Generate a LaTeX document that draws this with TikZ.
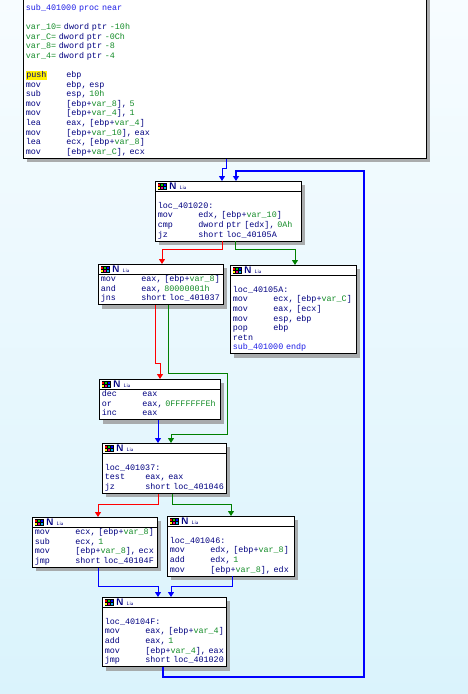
\documentclass[tikz,border=0pt]{standalone}
\usepackage{fontspec}
\newfontfamily\idamono{Liberation Mono}
\usepackage{tikz}
\usetikzlibrary{arrows.meta,shadows}

\definecolor{idanavy}{RGB}{0,0,128}
\definecolor{idagreen}{RGB}{20,140,40}
\definecolor{idablue}{RGB}{30,30,230}
\definecolor{idared}{RGB}{255,0,0}
\definecolor{idaedge}{RGB}{0,0,255}
\definecolor{idaok}{RGB}{0,128,0}
\definecolor{bgtop}{RGB}{247,252,255}
\definecolor{bgbot}{RGB}{218,243,252}

\newcommand{\asmfont}{\idamono\fontsize{8.4pt}{9.6pt}\selectfont}
\newcommand{\op}[2]{\mbox{\makebox[40.5pt][l]{#1}#2}}
\newcommand{\gv}[1]{\textcolor{idagreen}{#1}}
\newcommand{\hl}[1]{{\setlength{\fboxsep}{0.4pt}\colorbox{yellow}{#1}}}

\tikzset{
  block/.style={draw=black, fill=white, line width=0.8pt, anchor=north west, align=left,
    inner xsep=2.5pt, inner ysep=1pt, font=\asmfont, text=idanavy,
    drop shadow={shadow xshift=4pt, shadow yshift=-4pt, fill=black!40, opacity=0.8},
    execute at end node=\strut},
  redge/.style={draw=idared, line width=1pt, -{Triangle[length=5pt,width=6pt]}},
  gedge/.style={draw=idaok, line width=1pt, -{Triangle[length=5pt,width=6pt]}},
  bedge/.style={draw=idaedge, line width=1pt, -{Triangle[length=5pt,width=6pt]}},
  loopedge/.style={bedge, line width=2.2pt},
  idahdr/.pic={
    \fill[black] (2.5,-2) rectangle (11.5,-8.5);
    \fill[red] (3,-2.5) rectangle (5.4,-5);
    \fill[green!80!black] (6,-2.5) rectangle (8.4,-5);
    \fill[blue] (9,-2.5) rectangle (11,-5);
    \fill[yellow] (3,-5.5) rectangle (5.4,-8);
    \fill[magenta] (6,-5.5) rectangle (8.4,-8);
    \fill[cyan] (9,-5.5) rectangle (11,-8);
    \node[anchor=south west, inner sep=0, text=idanavy,
      font=\sffamily\bfseries\fontsize{9.5pt}{9.5pt}\selectfont] (-n) at (14,-9) {N};
    \node[anchor=south west, inner sep=0, text=idanavy,
      font=\sffamily\fontsize{5pt}{5pt}\selectfont] (-t) at (24.5,-8.8) {Lia};
  }
}

\begin{document}
\begin{tikzpicture}[x=1pt,y=1pt]
  \useasboundingbox (0,0) rectangle (468,-694);
  \shade[top color=bgtop, bottom color=bgbot] (0,0) rectangle (468,-694);
  \clip (0,0) rectangle (468,-694);

  % Blocks
  \node[block, text width=398pt] (top) at (23,17) {\strut\\ \strut\\
    \textcolor{idablue}{\mbox{sub\_401000 proc near}}\\ \strut\\
    \mbox{\gv{var\_10=} dword ptr \gv{-10h}}\\
    \mbox{\gv{var\_C=} dword ptr \gv{-0Ch}}\\
    \mbox{\gv{var\_8=} dword ptr \gv{-8}}\\
    \mbox{\gv{var\_4=} dword ptr \gv{-4}}\\ \strut\\
    \op{\hl{push}}{ebp}\\
    \op{mov}{ebp, esp}\\
    \op{sub}{esp, \gv{10h}}\\
    \op{mov}{[ebp+\gv{var\_8}], \gv{5}}\\
    \op{mov}{[ebp+\gv{var\_4}], \gv{1}}\\
    \op{lea}{eax, [ebp+\gv{var\_4}]}\\
    \op{mov}{[ebp+\gv{var\_10}], eax}\\
    \op{lea}{ecx, [ebp+\gv{var\_8}]}\\
    \op{mov}{[ebp+\gv{var\_C}], ecx}};
  \node[block, text width=141pt] (b2) at (155,-181) {\strut\\ \strut\\
    loc\_401020:\\
    \op{mov}{edx, [ebp+\gv{var\_10}]}\\
    \op{cmp}{dword ptr [edx], \gv{0Ah}}\\
    \op{jz}{short loc\_40105A}};
  \node[block, text width=120pt] (b3) at (98,-264) {\strut\\
    \op{mov}{eax, [ebp+\gv{var\_8}]}\\
    \op{and}{eax, \gv{80000001h}}\\
    \op{jns}{short loc\_401037}};
  \node[block, text width=121pt] (b4) at (230,-265) {\strut\\ \strut\\
    loc\_40105A:\\
    \op{mov}{ecx, [ebp+\gv{var\_C}]}\\
    \op{mov}{eax, [ecx]}\\
    \op{mov}{esp, ebp}\\
    \op{pop}{ebp}\\
    retn\\
    \textcolor{idablue}{\mbox{sub\_401000 endp}}};
  \node[block, text width=116pt] (b5) at (99,-379) {\strut\\
    \op{dec}{eax}\\
    \op{or}{eax, \gv{0FFFFFFFEh}}\\
    \op{inc}{eax}};
  \node[block, text width=119pt] (b6) at (102,-443) {\strut\\ \strut\\
    loc\_401037:\\
    \op{test}{eax, eax}\\
    \op{jz}{short loc\_401046}};
  \node[block, text width=120pt] (b7) at (32,-517) {\strut\\
    \op{mov}{ecx, [ebp+\gv{var\_8}]}\\
    \op{sub}{ecx, \gv{1}}\\
    \op{mov}{[ebp+\gv{var\_8}], ecx}\\
    \op{jmp}{short loc\_40104F}};
  \node[block, text width=122pt] (b8) at (167,-516) {\strut\\ \strut\\
    loc\_401046:\\
    \op{mov}{edx, [ebp+\gv{var\_8}]}\\
    \op{add}{edx, \gv{1}}\\
    \op{mov}{[ebp+\gv{var\_8}], edx}};
  \node[block, text width=119pt] (b9) at (102,-597) {\strut\\ \strut\\
    loc\_40104F:\\
    \op{mov}{eax, [ebp+\gv{var\_4}]}\\
    \op{add}{eax, \gv{1}}\\
    \op{mov}{[ebp+\gv{var\_4}], eax}\\
    \op{jmp}{short loc\_401020}};

  % Headers
  \foreach \b in {b2,b3,b4,b5,b6,b7,b8,b9} {
    \pic (\b-hdr) at (\b.north west) {idahdr};
    \draw[line width=0.8pt] ([yshift=-10pt]\b.north west) -- ([yshift=-10pt]\b.north east);
  }

  % Connections
  \draw[bedge] ([xshift=203pt]top.south west) -- ++(0,-10) -| ([xshift=67pt]b2.north west);
  \draw[redge] ([xshift=67pt]b2.south west) -- ++(0,-8) -| ([xshift=64pt]b3.north west);
  \draw[gedge] ([xshift=80pt]b2.south west) -- ++(0,-8) -| ([xshift=65pt]b4.north west);
  \draw[redge] ([xshift=57pt]b3.south west) -- ++(0,-58) -| ([xshift=61pt]b5.north west);
  \draw[gedge] ([xshift=70pt]b3.south west) -- ++(0,-68) -- ++(59,0) -- ++(0,-61)
    -| ([xshift=69pt]b6.north west);
  \draw[bedge] ([xshift=59pt]b5.south west) -- ([xshift=56pt]b6.north west);
  \draw[redge] ([xshift=56pt]b6.south west) -- ++(0,-11) -| ([xshift=66pt]b7.north west);
  \draw[gedge] ([xshift=70pt]b6.south west) -- ++(0,-11) -| ([xshift=64pt]b8.north west);
  \draw[bedge] ([xshift=66pt]b7.south west) -- ++(0,-19) -| ([xshift=56pt]b9.north west);
  \draw[bedge] ([xshift=65pt]b8.south west) -- ++(0,-10) -| ([xshift=69pt]b9.north west);
  % back edge
  \draw[loopedge] ([xshift=61pt]b9.south west) -- ++(0,-10) -| (364,-171)
    -| ([xshift=81pt]b2.north west);
\end{tikzpicture}
\end{document}
